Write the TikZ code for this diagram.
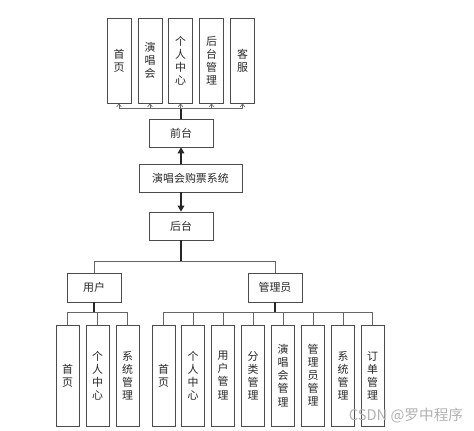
\documentclass[tikz,border=0pt]{standalone}
\usepackage{fontspec}
\newfontfamily\cjk{Noto Sans CJK SC}
\usetikzlibrary{arrows.meta}

\begin{document}
\begin{tikzpicture}[
        x=0.75pt, y=-0.75pt, % coordinates in pixels of the picture
        font=\cjk\fontsize{8.2}{9.8}\selectfont,
        box/.style={draw=black!70, line width=0.6pt, text=black!85, inner sep=0pt, align=center},
        wide/.style={box, minimum width=48pt, minimum height=21pt},
        tall/.style={box, minimum width=18pt, minimum height=63.75pt}, % top row
        low/.style={box, minimum width=17.25pt, minimum height=75.75pt}, % bottom row
        thin/.style={draw=black!60, line width=0.5pt},
        trunk/.style={draw=black!85, line width=1pt},
        tip/.style={thin, -{Straight Barb[length=2.2pt, width=3.5pt]}},
        bigtip/.style={trunk, -{Triangle[length=4.5pt, width=5pt]}}
    ]
    \useasboundingbox (0,0) rectangle (474,431);

    % top row
    \node[tall] (t1) at (119,60.5)   {首\\页};
    \node[tall] (t2) at (150,60.5)   {演\\唱\\会};
    \node[tall] (t3) at (180.5,60.5) {个\\人\\中\\心};
    \node[tall] (t4) at (211.5,60.5) {后\\台\\管\\理};
    \node[tall] (t5) at (242.5,60.5) {客\\服};

    \node[wide] (qt)  at (181,133)   {前台};
    \node[wide, minimum width=77.25pt] (sys) at (190.5,178) {演唱会购票系统};
    \node[wide] (ht)  at (181,226)   {后台};

    \node[wide, minimum width=40.5pt, minimum height=21.75pt] (yh)  at (94,287.5)  {用户};
    \node[wide, minimum width=40.5pt, minimum height=21.75pt] (gly) at (275,287.5) {管理员};

    % bottom row
    \node[low] (u1) at (67.5,375.5)  {首\\页};
    \node[low] (u2) at (97.5,375.5)  {个\\人\\中\\心};
    \node[low] (u3) at (127.5,375.5) {系\\统\\管\\理};
    \node[low] (a1) at (163.5,375.5) {首\\页};
    \node[low] (a2) at (193,375.5)   {个\\人\\中\\心};
    \node[low] (a3) at (223,375.5)   {用\\户\\管\\理};
    \node[low] (a4) at (253,375.5)   {分\\类\\管\\理};
    \node[low] (a5) at (283,375.5)   {演\\唱\\会\\管\\理};
    \node[low] (a6) at (313,375.5)   {管\\理\\员\\管\\理};
    \node[low] (a7) at (343,375.5)   {系\\统\\管\\理};
    \node[low] (a8) at (372.5,375.5) {订\\单\\管\\理};

    \coordinate (tb) at (0,108);   % bus under top row
    \coordinate (mb) at (0,261);   % bus over 用户 / 管理员
    \coordinate (lb) at (0,312);   % bus over bottom row

    % 前台 up to the top row
    \draw[trunk] (qt.north) -- (qt.north |- tb);
    \draw[thin] (t1.south |- tb) -- (t5.south |- tb);
    \foreach \i in {1,...,5}
        \draw[tip] (t\i.south |- tb) -- (t\i.south);

    \draw[bigtip] (qt.south |- sys.north) -- (qt.south);
    \draw[bigtip] (ht.north |- sys.south) -- (ht.north);

    % 后台 down
    \draw[trunk] (ht.south) -- (ht.south |- mb);
    \draw[thin] (yh.north) |- (gly.north |- mb) -- (gly.north);

    \draw[trunk] (yh.south) -- (yh.south |- lb);
    \draw[thin] (u1.north |- lb) -- (u3.north |- lb);
    \foreach \i in {1,2,3}
        \draw[thin] (u\i.north |- lb) -- (u\i.north);

    \draw[trunk] (gly.south) -- (gly.south |- lb);
    \draw[thin] (a1.north |- lb) -- (a8.north |- lb);
    \foreach \i in {1,...,8}
        \draw[thin] (a\i.north |- lb) -- (a\i.north);

    \node[font=\cjk\fontsize{11}{13}\selectfont, text=black!30, inner sep=0pt] (wm) at (406,416) {CSDN @罗中程序};
\end{tikzpicture}
\end{document}
